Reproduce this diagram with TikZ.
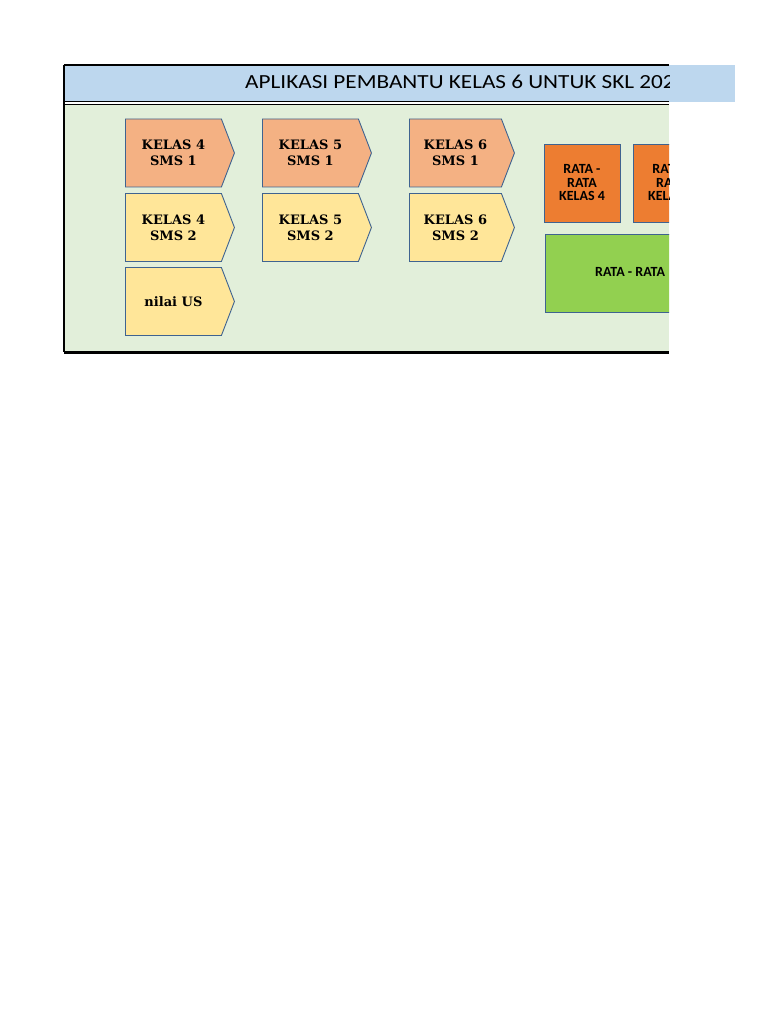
\documentclass[tikz,border=0pt]{standalone}
\usepackage{fontspec}
\setmainfont{Carlito}
\newfontfamily\boxfont{DejaVu Serif}
\usetikzlibrary{shapes.symbols}
\definecolor{titleblue}{HTML}{BDD7EE}
\definecolor{sheetgreen}{HTML}{E2EFDA}
\definecolor{semorange}{HTML}{F4B183}
\definecolor{semyellow}{HTML}{FFE699}
\definecolor{rataorange}{HTML}{ED7D31}
\definecolor{ratagreen}{HTML}{92D050}
\definecolor{edgeblue}{HTML}{3F6390}

\begin{document}
\begin{tikzpicture}[x=1pt,y=-1pt,
    sem/.style={signal, signal to=east, signal pointer angle=138, draw=edgeblue,
      line width=0.9pt, minimum width=109pt, minimum height=68pt, inner sep=0pt,
      align=center, anchor=west, font={\boxfont\bfseries\fontsize{13}{16}\selectfont}},
    rata/.style={draw=edgeblue, line width=0.9pt, align=center,
      font={\bfseries\fontsize{14}{13.5}\selectfont}}]
    \useasboundingbox (0,0) rectangle (768,1024);
    \fill[titleblue] (64,65) rectangle (735,102);
    \begin{scope}
      \clip (0,0) rectangle (669,1024);
      \fill[sheetgreen] (64,104) rectangle (669,352);
      \node[anchor=base west,inner sep=0pt,xscale=1.16,transform shape,
        font=\fontsize{20}{24}\selectfont] (title) at (245,89)
        {APLIKASI PEMBANTU KELAS 6 UNTUK SKL 2023};
      \draw[line width=2pt] (64,65) -- (669,65);
      \draw[line width=1.2pt] (64,101.5) -- (669,101.5);
      \draw[line width=1.2pt] (64,104.3) -- (669,104.3);
      \draw[line width=2pt] (64,65) -- (64,352);
      \draw[line width=3pt] (64,352) -- (669,352);
      % semesters
      \node[sem,fill=semorange] (k4s1) at (125,153) {KELAS 4\\SMS 1};
      \node[sem,fill=semyellow] (k4s2) at (125,227.5) {KELAS 4\\SMS 2};
      \node[sem,fill=semyellow] (nus) at (125,301.5) {nilai US};
      \node[sem,fill=semorange] (k5s1) at (262,153) {KELAS 5\\SMS 1};
      \node[sem,fill=semyellow] (k5s2) at (262,227.5) {KELAS 5\\SMS 2};
      \node[sem,fill=semorange,minimum width=105pt] (k6s1) at (409,153) {KELAS 6\\SMS 1};
      \node[sem,fill=semyellow,minimum width=105pt] (k6s2) at (409,227.5) {KELAS 6\\SMS 2};
      % averages
      \node[rata,fill=rataorange,minimum width=76pt,minimum height=78pt] (rk4) at (582,183)
        {RATA -\\RATA\\KELAS 4};
      \node[rata,fill=rataorange,minimum width=76pt,minimum height=78pt] (rk5) at (671,183)
        {RATA -\\RATA\\KELAS 5};
      \fill[ratagreen,draw=edgeblue,line width=0.9pt] (545,234) rectangle (740,312);
      \node[font={\bfseries\fontsize{14}{13.5}\selectfont},anchor=west,inner sep=0pt] (rall)
        at (595,272) {RATA - RATA};
    \end{scope}
  \end{tikzpicture}
\end{document}
